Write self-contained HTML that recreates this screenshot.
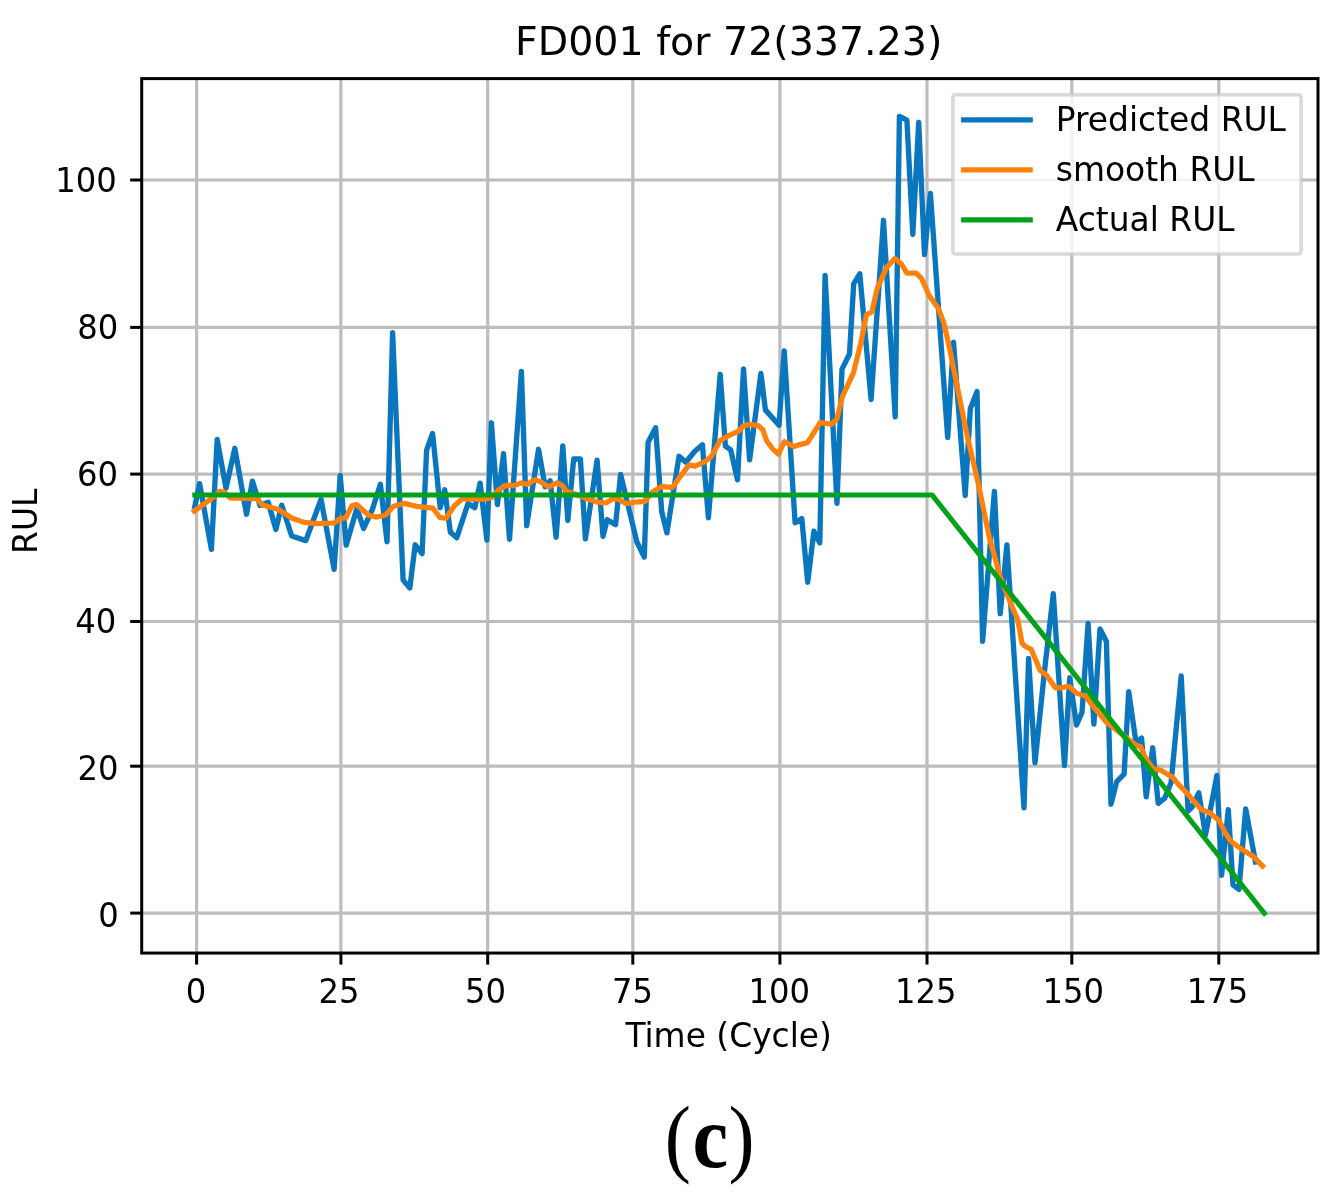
<!DOCTYPE html>
<html><head><meta charset="utf-8"><title>FD001 for 72(337.23)</title>
<style>html,body{margin:0;padding:0;background:#fff;width:1343px;height:1194px;overflow:hidden}svg{display:block}</style>
</head><body>
<svg width="1343" height="1194" viewBox="0 0 1343 1194"><rect x="0" y="0" width="1343" height="1194" fill="#ffffff"/><defs><clipPath id="c"><rect x="141.7" y="78.6" width="1176.3" height="874.45"/></clipPath></defs><g stroke="#bdbdbd" stroke-width="3.2" fill="none"><line x1="196.6" y1="78.6" x2="196.6" y2="953.05"/><line x1="340.9" y1="78.6" x2="340.9" y2="953.05"/><line x1="487.7" y1="78.6" x2="487.7" y2="953.05"/><line x1="632.8" y1="78.6" x2="632.8" y2="953.05"/><line x1="779.9" y1="78.6" x2="779.9" y2="953.05"/><line x1="927.0" y1="78.6" x2="927.0" y2="953.05"/><line x1="1071.8" y1="78.6" x2="1071.8" y2="953.05"/><line x1="1218.8" y1="78.6" x2="1218.8" y2="953.05"/><line x1="141.7" y1="913.1" x2="1318.0" y2="913.1"/><line x1="141.7" y1="766.2" x2="1318.0" y2="766.2"/><line x1="141.7" y1="621.5" x2="1318.0" y2="621.5"/><line x1="141.7" y1="474.1" x2="1318.0" y2="474.1"/><line x1="141.7" y1="327.4" x2="1318.0" y2="327.4"/><line x1="141.7" y1="180.0" x2="1318.0" y2="180.0"/></g><g clip-path="url(#c)" fill="none" stroke-width="5.2" stroke-linejoin="round" stroke-linecap="square"><polyline stroke="#0a76bd" stroke-width="5.35" points="194.8,506.5 199.6,483.6 211.4,549.4 217.2,439.5 226.0,488.2 234.8,448.3 246.5,514.2 252.4,481.1 260.0,505.5 268.2,502.2 275.9,529.5 281.7,505.1 291.7,536.0 305.8,540.6 321.0,499.3 334.1,569.3 340.2,475.5 346.2,545.2 356.9,508.3 363.6,528.4 372.3,509.6 380.4,484.2 387.0,541.8 392.6,332.6 403.1,580.0 409.8,588.0 415.2,544.8 422.1,553.6 426.6,450.2 432.6,433.4 440.2,507.7 444.7,489.8 450.4,532.3 456.7,537.8 468.0,503.5 474.8,507.7 480.1,483.1 486.9,540.1 491.4,422.8 497.4,504.6 503.5,453.7 509.5,539.3 521.4,371.4 526.7,525.7 538.5,449.3 545.2,486.9 550.2,480.8 556.1,537.2 562.8,445.9 567.8,520.4 573.7,459.0 580.4,459.0 585.4,538.9 597.1,460.2 603.0,536.3 607.2,519.7 615.6,524.6 620.6,474.4 636.8,541.7 644.3,557.0 648.1,442.2 655.6,427.7 661.7,511.6 666.9,532.9 679.0,456.3 685.8,462.2 694.8,451.3 702.4,444.8 708.4,517.8 720.2,374.3 725.4,446.1 730.7,449.9 737.5,479.8 743.5,369.0 749.6,459.9 760.9,373.5 765.4,409.9 779.0,425.2 784.2,350.9 795.1,522.7 801.8,518.6 807.7,582.2 813.9,531.2 819.8,542.8 825.1,275.4 837.0,503.4 842.0,369.1 849.5,354.0 853.7,283.9 859.8,273.9 871.1,399.5 883.5,220.3 895.2,416.8 899.4,116.4 906.9,120.1 912.8,234.4 918.7,122.3 924.5,254.6 930.4,193.5 947.7,437.6 953.5,342.2 965.2,495.5 970.3,408.8 977.0,391.6 982.6,641.3 994.4,491.4 1000.2,613.7 1006.9,545.0 1024.0,807.9 1028.6,658.4 1035.0,762.8 1044.2,673.7 1053.3,593.6 1064.5,765.5 1069.7,677.8 1076.5,725.0 1082.0,712.4 1088.1,623.4 1093.9,724.0 1100.0,628.9 1106.4,641.5 1111.0,804.2 1116.7,781.6 1124.1,774.2 1128.7,691.6 1136.1,743.1 1141.6,738.0 1146.2,796.9 1152.7,747.8 1158.2,803.3 1164.7,798.2 1171.1,782.5 1181.2,676.0 1188.1,811.0 1192.1,807.1 1198.8,792.9 1205.5,835.1 1216.9,775.5 1221.6,875.3 1228.3,809.6 1233.0,884.8 1239.0,889.4 1245.7,808.9 1255.5,862.0"/><polyline stroke="#ff800a" stroke-width="5.2" points="194.3,511.0 214.8,496.2 219.5,491.4 224.3,492.0 230.3,498.0 256.5,498.6 262.4,505.1 277.9,509.3 292.2,518.2 304.1,522.4 316.1,523.6 333.9,523.0 340.0,518.8 346.0,517.7 351.9,505.7 356.7,504.5 368.6,515.3 375.7,517.1 385.3,515.3 393.6,506.3 404.3,503.4 416.2,506.3 432.9,508.1 440.1,517.7 446.0,518.2 454.4,505.7 462.7,498.6 471.0,499.2 483.0,499.2 491.0,498.0 499.0,489.5 506.9,485.1 514.1,485.7 521.2,482.8 527.2,484.5 534.3,479.8 540.3,481.6 548.6,486.9 556.9,482.8 561.7,485.1 566.5,491.1 575.0,494.0 585.5,498.2 596.3,501.8 605.8,503.0 612.9,498.8 618.9,499.4 626.0,503.6 638.0,501.8 645.0,501.3 652.1,492.3 661.7,486.4 672.4,487.6 679.5,477.4 689.1,464.9 695.0,466.1 704.6,461.9 711.7,456.0 720.1,440.5 728.4,435.7 737.9,431.6 743.9,425.6 749.8,424.4 758.2,425.6 762.9,429.8 766.5,440.5 772.5,448.8 778.4,454.2 784.4,441.7 793.9,446.5 800.0,444.6 807.4,442.8 820.3,422.5 831.3,424.3 836.9,418.8 842.4,396.7 853.5,372.7 860.8,343.2 866.4,314.7 871.9,311.9 877.4,287.9 886.6,267.6 894.9,258.4 901.4,264.0 906.9,273.2 916.1,273.2 921.7,278.7 929.0,295.3 938.2,308.2 943.8,322.9 949.3,346.9 954.8,374.6 967.1,435.3 978.2,483.2 989.2,536.7 1000.3,577.2 1011.6,605.6 1017.6,619.2 1022.1,643.3 1025.2,646.3 1031.2,649.4 1040.2,670.5 1046.3,675.0 1055.3,687.8 1061.3,687.8 1068.9,686.3 1076.4,693.1 1085.5,696.1 1094.5,708.1 1106.3,722.2 1136.2,745.2 1140.7,746.7 1145.2,757.3 1152.8,768.6 1160.3,770.1 1172.3,776.9 1178.4,784.4 1185.9,791.9 1195.0,802.5 1201.0,809.3 1210.0,813.0 1219.1,820.6 1225.1,832.6 1231.1,841.7 1241.7,849.2 1253.7,856.7 1262.5,866.0"/><polyline stroke="#00a21a" stroke-width="5.0" points="194.8,494.9 932.0,494.9 1264.4,913.3"/></g><rect x="141.7" y="78.6" width="1176.30" height="874.45" fill="none" stroke="#000" stroke-width="3.0" stroke-linejoin="miter"/><g stroke="#000" stroke-width="3.0"><line x1="196.6" y1="953.05" x2="196.6" y2="964.55"/><line x1="340.9" y1="953.05" x2="340.9" y2="964.55"/><line x1="487.7" y1="953.05" x2="487.7" y2="964.55"/><line x1="632.8" y1="953.05" x2="632.8" y2="964.55"/><line x1="779.9" y1="953.05" x2="779.9" y2="964.55"/><line x1="927.0" y1="953.05" x2="927.0" y2="964.55"/><line x1="1071.8" y1="953.05" x2="1071.8" y2="964.55"/><line x1="1218.8" y1="953.05" x2="1218.8" y2="964.55"/><line x1="141.7" y1="913.1" x2="130.20" y2="913.1"/><line x1="141.7" y1="766.2" x2="130.20" y2="766.2"/><line x1="141.7" y1="621.5" x2="130.20" y2="621.5"/><line x1="141.7" y1="474.1" x2="130.20" y2="474.1"/><line x1="141.7" y1="327.4" x2="130.20" y2="327.4"/><line x1="141.7" y1="180.0" x2="130.20" y2="180.0"/></g><g font-family="'DejaVu Sans', 'Liberation Sans', sans-serif" font-size="32.9" fill="#000"><text transform="translate(196.10,1002.80) scale(0.98,1)" text-anchor="middle">0</text><text transform="translate(339.05,1002.80) scale(0.98,1)" text-anchor="middle">25</text><text transform="translate(485.55,1002.80) scale(0.98,1)" text-anchor="middle">50</text><text transform="translate(632.50,1002.80) scale(0.98,1)" text-anchor="middle">75</text><text transform="translate(779.15,1002.80) scale(0.98,1)" text-anchor="middle">100</text><text transform="translate(925.80,1002.80) scale(0.98,1)" text-anchor="middle">125</text><text transform="translate(1073.15,1002.80) scale(0.98,1)" text-anchor="middle">150</text><text transform="translate(1217.60,1002.80) scale(0.98,1)" text-anchor="middle">175</text><text transform="translate(86.00,191.85) scale(0.98,1)" text-anchor="middle">100</text><text transform="translate(97.70,338.70) scale(0.98,1)" text-anchor="middle">80</text><text transform="translate(97.60,485.95) scale(0.98,1)" text-anchor="middle">60</text><text transform="translate(95.75,633.30) scale(0.98,1)" text-anchor="middle">40</text><text transform="translate(97.90,779.80) scale(0.98,1)" text-anchor="middle">20</text><text transform="translate(108.55,927.30) scale(0.98,1)" text-anchor="middle">0</text></g><text x="728.65" y="1047.0" text-anchor="middle" font-family="'DejaVu Sans', 'Liberation Sans', sans-serif" font-size="32.9" fill="#000">Time (Cycle)</text><text transform="translate(37.4,521.3) rotate(-90)" x="0" y="0" text-anchor="middle" font-family="'DejaVu Sans', 'Liberation Sans', sans-serif" font-size="32.9" fill="#000">RUL</text><text x="728.7" y="55.4" text-anchor="middle" font-family="'DejaVu Sans', 'Liberation Sans', sans-serif" font-size="39.5" fill="#000">FD001 for 72(337.23)</text><rect x="952.9" y="94.8" width="348.2" height="159.2" rx="2.5" ry="2.5" fill="#ffffff" fill-opacity="0.8" stroke="#cccccc" stroke-opacity="0.75" stroke-width="3.6"/><line x1="963.7" y1="119.9" x2="1030.2" y2="119.9" stroke="#0a76bd" stroke-width="5.2" stroke-linecap="square"/><text x="1055.8" y="131.3" font-family="'DejaVu Sans', 'Liberation Sans', sans-serif" font-size="32.9" fill="#000">Predicted RUL</text><line x1="963.7" y1="169.9" x2="1030.2" y2="169.9" stroke="#ff800a" stroke-width="5.2" stroke-linecap="square"/><text x="1055.8" y="181.3" font-family="'DejaVu Sans', 'Liberation Sans', sans-serif" font-size="32.9" fill="#000">smooth RUL</text><line x1="963.7" y1="219.9" x2="1030.2" y2="219.9" stroke="#00a21a" stroke-width="5.2" stroke-linecap="square"/><text x="1055.8" y="231.3" font-family="'DejaVu Sans', 'Liberation Sans', sans-serif" font-size="32.9" fill="#000">Actual RUL</text><g font-family="'Liberation Serif', 'DejaVu Serif', serif" font-size="100" fill="#000"><text transform="translate(664.66,1165.55) scale(0.785,0.866)">(</text><text transform="translate(692.4,1166.8) scale(0.803,0.881)" font-weight="bold">c</text><text transform="translate(728.5,1165.55) scale(0.781,0.866)">)</text></g></svg>
</body></html>
